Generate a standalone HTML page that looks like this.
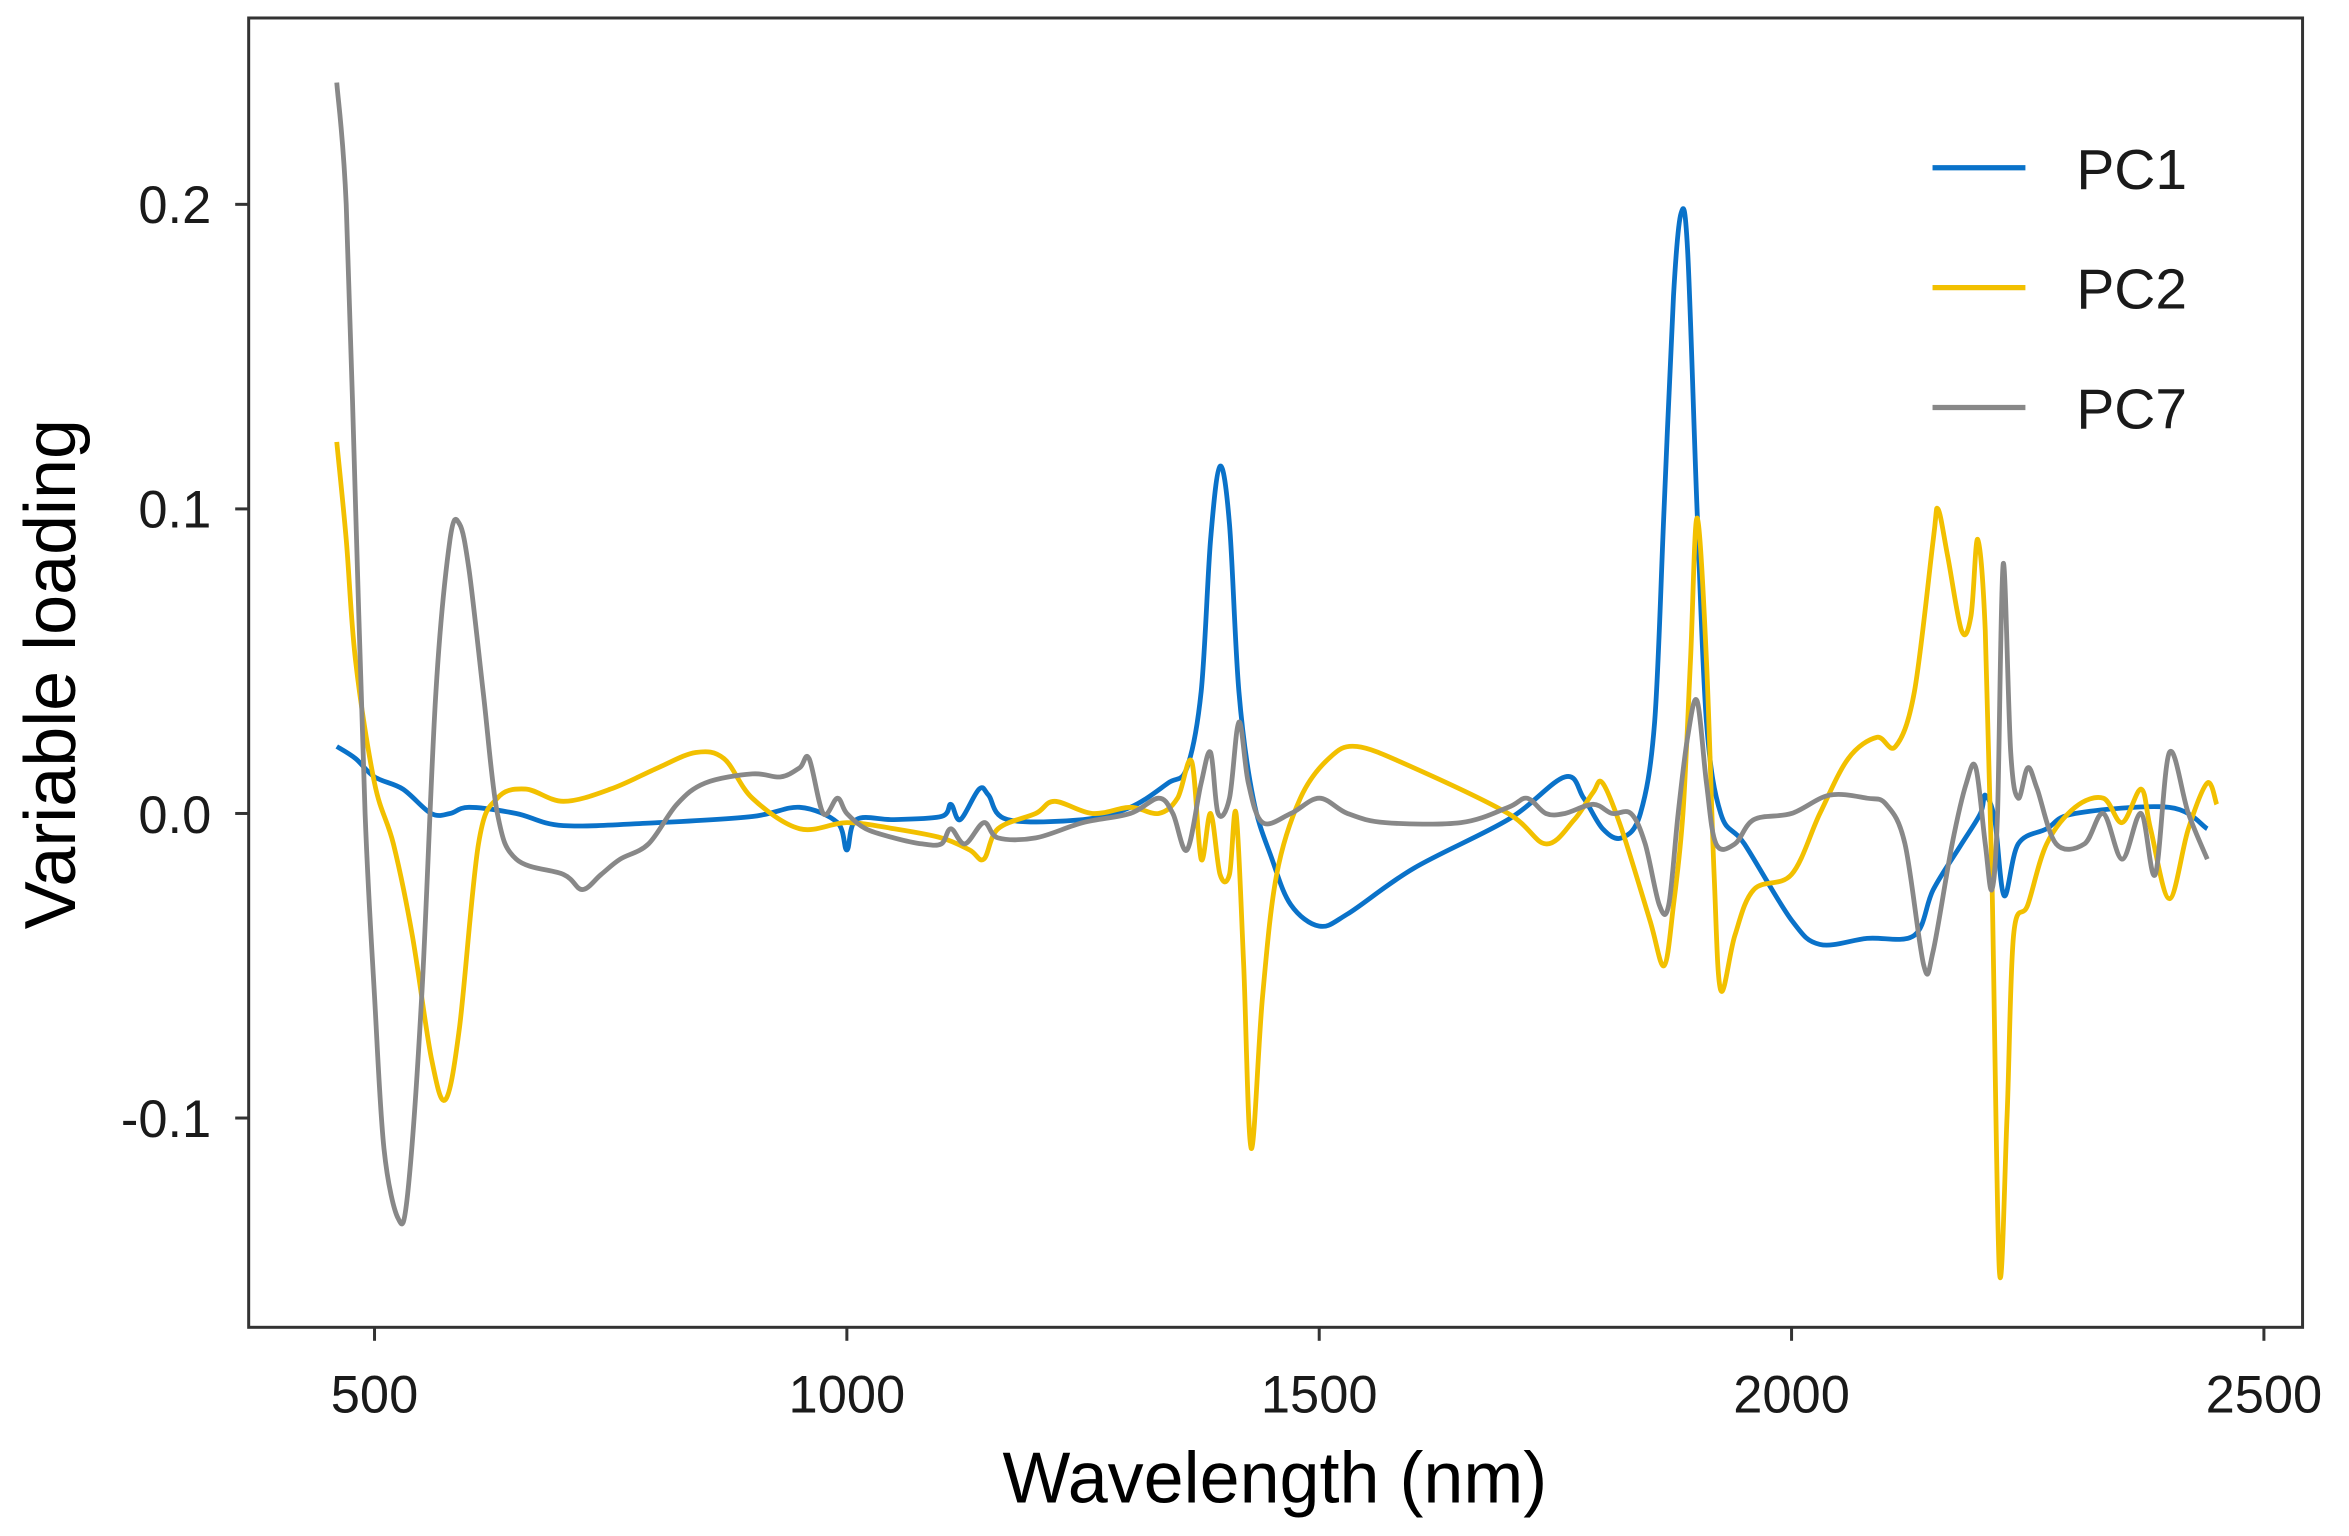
<!DOCTYPE html>
<html><head><meta charset="utf-8"><style>
html,body{margin:0;padding:0;background:#fff;}
svg{display:block;font-family:"Liberation Sans",Arial,sans-serif;}
</style></head><body>
<svg id="s" width="2349" height="1536" viewBox="0 0 1568 1025.3" xmlns="http://www.w3.org/2000/svg">
<rect x="0" y="0" width="1568" height="1026" fill="#fff"/>
<g id="series"></g>
<rect x="166" y="12" width="1371" height="874" fill="none" stroke="#333" stroke-width="2"/>
<g stroke="#333" stroke-width="2">
<line x1="250" y1="886" x2="250" y2="895"/><line x1="565.3" y1="886" x2="565.3" y2="895"/><line x1="880.6" y1="886" x2="880.6" y2="895"/><line x1="1195.9" y1="886" x2="1195.9" y2="895"/><line x1="1511.2" y1="886" x2="1511.2" y2="895"/>
<line x1="157" y1="136.4" x2="166" y2="136.4"/><line x1="157" y1="339.7" x2="166" y2="339.7"/><line x1="157" y1="543" x2="166" y2="543"/><line x1="157" y1="746.3" x2="166" y2="746.3"/>
</g>
<g font-size="35" fill="#1a1a1a" text-anchor="middle">
<text x="250" y="943">500</text><text x="565.3" y="943">1000</text><text x="880.6" y="943">1500</text><text x="1195.9" y="943">2000</text><text x="1511.2" y="943">2500</text>
</g>
<g font-size="35" fill="#1a1a1a" text-anchor="end">
<text x="141" y="149">0.2</text><text x="141" y="352">0.1</text><text x="141" y="556">0.0</text><text x="141" y="759">-0.1</text>
</g>
<text x="851" y="1003" font-size="48" text-anchor="middle" fill="#000">Wavelength (nm)</text>
<text transform="translate(50,450) rotate(-90)" font-size="48" text-anchor="middle" fill="#000">Variable loading</text>
<g stroke-width="3.5">
<line x1="1290" y1="112" x2="1352" y2="112" stroke="#0a72c9"/>
<line x1="1290" y1="192" x2="1352" y2="192" stroke="#f2c000"/>
<line x1="1290" y1="272" x2="1352" y2="272" stroke="#888"/>
</g>
<g font-size="38" fill="#1a1a1a">
<text x="1386" y="126">PC1</text><text x="1386" y="206">PC2</text><text x="1386" y="286">PC7</text>
</g>
</svg>
<script>
function X(w){return 250+(w-500)*0.6306;}
function Y(v){return 543-v*2033;}
function path(d){
 var p=[];for(var i=0;i<d.length;i+=2)p.push([X(d[i]),Y(d[i+1])]);
 var s="M"+p[0][0].toFixed(1)+","+p[0][1].toFixed(1);
 for(var i=0;i<p.length-1;i++){
  var p0=p[i>0?i-1:i],p1=p[i],p2=p[i+1],p3=p[i+2<p.length?i+2:i+1];
  var c1x=p1[0]+(p2[0]-p0[0])/6,c1y=p1[1]+(p2[1]-p0[1])/6;
  var c2x=p2[0]-(p3[0]-p1[0])/6,c2y=p2[1]-(p3[1]-p1[1])/6;
  s+="C"+c1x.toFixed(1)+","+c1y.toFixed(1)+" "+c2x.toFixed(1)+","+c2y.toFixed(1)+" "+p2[0].toFixed(1)+","+p2[1].toFixed(1);
 }
 return s;
}
var pc1=[460,0.022,480,0.018,500,0.012,530,0.008,560,0.0,580,0.0,600,0.002,650,0.0,700,-0.004,800,-0.003,900,-0.001,950,0.002,990,-0.003,1000,-0.012,1010,-0.002,1050,-0.002,1100,-0.001,1110,0.003,1120,-0.002,1140,0.008,1150,0.006,1170,-0.002,1250,-0.002,1300,0.002,1340,0.01,1360,0.015,1375,0.04,1385,0.09,1395,0.114,1405,0.095,1415,0.04,1430,0.005,1450,-0.015,1470,-0.03,1500,-0.037,1530,-0.033,1600,-0.018,1700,-0.002,1760,0.012,1780,0.005,1800,-0.005,1820,-0.008,1840,0.0,1855,0.03,1865,0.1,1875,0.17,1883,0.197,1890,0.185,1900,0.1,1910,0.03,1925,0.0,1950,-0.01,2000,-0.035,2030,-0.043,2080,-0.041,2130,-0.04,2150,-0.025,2180,-0.01,2200,0.0,2205,0.006,2215,-0.002,2225,-0.027,2240,-0.01,2270,-0.005,2300,0.0,2400,0.002,2440,-0.005];
var pc2=[460,0.122,470,0.09,480,0.05,500,0.01,520,-0.01,540,-0.04,560,-0.08,575,-0.094,590,-0.07,610,-0.01,630,0.005,660,0.008,700,0.004,750,0.008,800,0.015,840,0.02,870,0.018,900,0.005,950,-0.005,1000,-0.003,1050,-0.005,1100,-0.008,1130,-0.012,1145,-0.015,1160,-0.005,1200,0.0,1220,0.004,1260,0.0,1300,0.002,1330,0.0,1350,0.005,1365,0.017,1375,-0.015,1385,0.0,1395,-0.02,1405,-0.02,1412,0.0,1420,-0.05,1428,-0.11,1440,-0.06,1455,-0.02,1480,0.005,1510,0.018,1540,0.022,1600,0.015,1700,0.0,1740,-0.01,1770,-0.002,1790,0.007,1800,0.01,1820,-0.005,1850,-0.035,1865,-0.05,1875,-0.03,1885,0.0,1893,0.05,1900,0.097,1910,0.05,1918,-0.02,1925,-0.058,1940,-0.04,1960,-0.025,2000,-0.02,2030,0.0,2060,0.018,2090,0.025,2110,0.022,2130,0.04,2150,0.09,2155,0.1,2165,0.085,2180,0.06,2190,0.065,2197,0.09,2205,0.06,2212,-0.02,2220,-0.15,2228,-0.1,2235,-0.04,2250,-0.03,2270,-0.01,2300,0.002,2330,0.005,2350,-0.003,2370,0.008,2380,-0.005,2400,-0.028,2420,-0.005,2440,0.01,2450,0.003];
var pc7=[460,0.24,470,0.2,480,0.1,490,0.0,500,-0.06,510,-0.11,525,-0.133,535,-0.125,550,-0.06,565,0.04,580,0.09,590,0.095,600,0.08,615,0.04,630,0.0,650,-0.015,700,-0.02,720,-0.025,740,-0.02,760,-0.015,790,-0.01,820,0.003,850,0.01,900,0.013,930,0.012,950,0.015,960,0.018,975,0.0,990,0.005,1000,0.0,1020,-0.005,1050,-0.008,1080,-0.01,1100,-0.01,1110,-0.005,1125,-0.01,1145,-0.003,1160,-0.008,1200,-0.008,1250,-0.003,1300,0.0,1330,0.005,1345,0.0,1360,-0.012,1375,0.01,1385,0.02,1393,0.0,1405,0.005,1415,0.03,1425,0.01,1440,-0.003,1470,0.0,1500,0.005,1530,0.0,1570,-0.003,1650,-0.003,1700,0.002,1720,0.005,1740,0.0,1760,0.0,1790,0.003,1810,0.0,1830,0.0,1845,-0.01,1860,-0.03,1870,-0.03,1880,0.0,1890,0.025,1900,0.037,1910,0.01,1920,-0.01,1940,-0.01,1960,-0.002,2000,0.0,2040,0.006,2080,0.005,2100,0.003,2120,-0.01,2140,-0.05,2150,-0.045,2170,-0.01,2185,0.01,2195,0.015,2205,-0.01,2212,-0.025,2218,0.0,2224,0.082,2232,0.02,2240,0.005,2250,0.015,2260,0.008,2280,-0.01,2310,-0.01,2330,0.0,2350,-0.015,2370,0.0,2385,-0.02,2400,0.02,2420,0.0,2440,-0.015];
var g=document.getElementById("series"),ns="http://www.w3.org/2000/svg";
[[pc1,"#0a72c9"],[pc2,"#f2c000"],[pc7,"#888"]].forEach(function(a){
 var e=document.createElementNS(ns,"path");e.setAttribute("d",path(a[0]));
 e.setAttribute("fill","none");e.setAttribute("stroke",a[1]);e.setAttribute("stroke-width","3.2");
 e.setAttribute("stroke-linejoin","round");g.appendChild(e);
});
</script>
</body></html>
